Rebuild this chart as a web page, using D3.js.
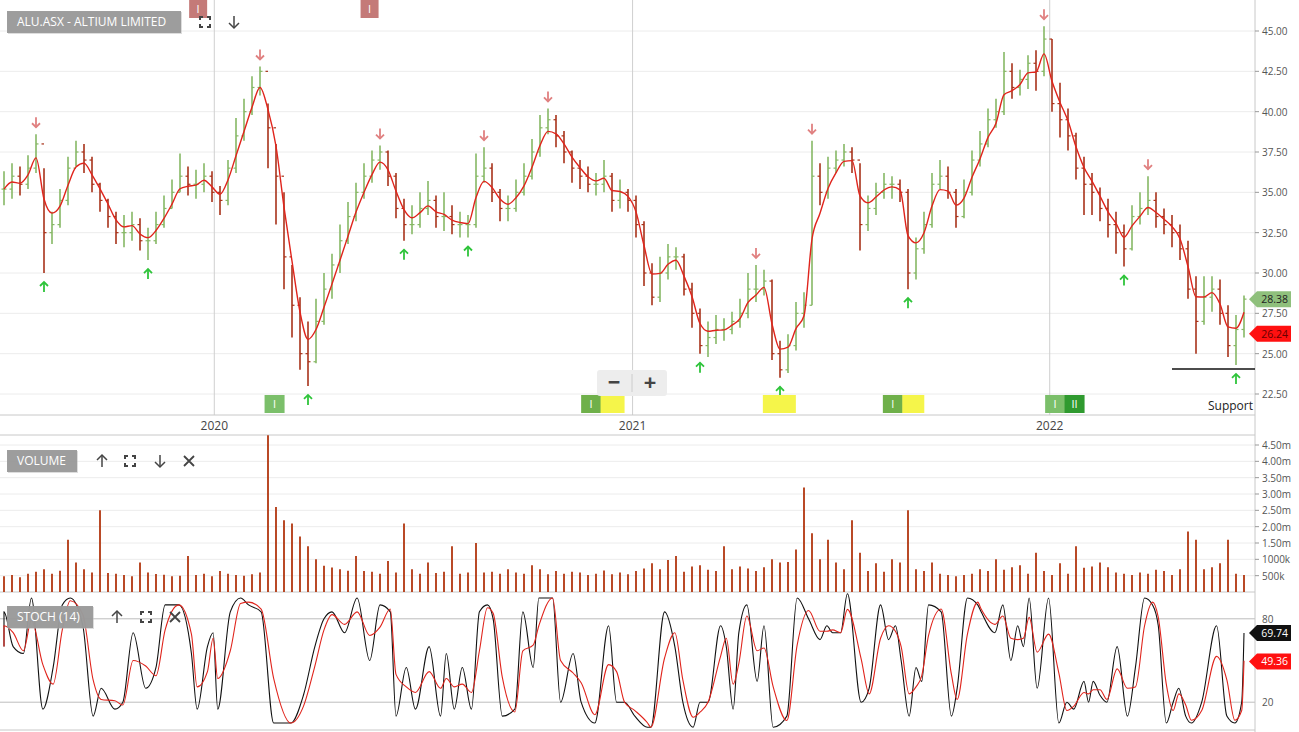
<!DOCTYPE html>
<html>
<head>
<meta charset="utf-8">
<script src="https://cdn.jsdelivr.net/npm/d3@7"></script>
<style>
  body { margin: 0; background: #fff; font-family: "Open Sans", Arial, sans-serif; }
  svg text { font-family: "Open Sans", Arial, sans-serif; }
</style>
</head>
<body>
<svg id="chart" width="1299" height="732"></svg>
<script>
// weekly closes, highs, lows (ALU.ASX, Jul 2019 - Jun 2022)
const closes = [35.2,36.0,35.5,36.5,38.0,32.5,33.0,34.5,36.5,37.5,
  37.0,35.5,34.5,33.5,32.5,32.5,33.0,32.0,32.0,33.0,
  34.0,35.0,36.0,35.5,35.5,36.0,35.0,34.5,36.5,38.5,
  40.0,41.5,42.5,39.0,36.0,31.0,28.0,25.0,24.5,27.0,
  29.0,30.5,32.0,33.5,35.0,36.0,37.0,37.5,36.0,34.0,
  33.0,33.0,34.0,34.5,33.5,33.5,33.0,33.0,33.0,36.0,
  36.5,35.0,34.0,34.0,35.0,36.0,37.5,39.0,39.5,38.5,
  37.5,36.5,36.0,35.5,35.5,36.0,34.5,35.0,34.5,33.0,
  30.0,28.5,30.0,31.0,31.0,29.0,27.5,25.5,26.0,26.5,
  26.5,27.0,27.5,29.0,29.0,29.5,25.0,24.0,25.5,27.5,
  28.0,36.0,35.0,36.5,37.0,37.5,37.0,33.0,34.0,35.0,
  35.5,35.5,35.0,30.0,31.5,33.0,35.5,36.0,35.0,33.5,
  35.0,37.0,38.0,39.5,40.0,42.5,41.5,42.0,43.0,42.5,
  44.5,40.5,39.5,38.5,36.5,35.5,35.0,34.0,33.0,32.5,
  31.5,33.5,34.0,34.5,33.5,33.0,32.5,31.5,29.0,27.0,
  28.5,29.0,27.5,25.5,26.5,28.38];
const highs = [36.3,36.8,36.6,37.3,38.6,36.5,33.8,35.2,37.2,38.2,
  38.0,37.2,35.6,34.6,33.8,33.6,33.8,33.4,32.8,33.8,
  34.8,35.8,37.4,36.6,36.4,36.8,36.3,35.4,37.0,39.6,
  40.8,42.2,42.8,40.5,38.0,35.0,30.5,28.5,27.0,28.4,
  30.0,31.2,33.0,34.4,35.6,36.8,37.6,37.9,37.6,36.2,
  34.6,34.2,35.0,35.7,34.8,35.0,34.2,33.8,33.6,37.4,
  37.8,36.8,35.2,34.8,35.8,36.8,38.3,39.8,40.2,39.8,
  38.8,37.6,37.0,36.6,36.2,37.0,36.2,35.8,35.2,34.8,
  33.2,30.6,31.0,31.8,31.6,31.2,29.4,27.8,27.0,27.4,
  27.2,27.6,28.4,30.0,30.5,30.2,29.6,25.8,26.2,28.2,
  28.8,38.2,36.8,37.2,37.6,38.0,37.8,36.8,34.8,35.6,
  36.2,36.0,35.8,35.2,32.2,33.8,36.2,37.0,36.6,35.2,
  35.8,37.6,38.8,40.2,40.8,43.7,43.0,42.6,43.5,43.8,
  45.3,44.5,41.8,40.2,38.7,37.2,36.2,35.3,34.6,33.8,
  33.0,34.2,35.0,36.0,35.0,34.0,33.6,33.0,32.0,29.8,
  29.8,29.8,29.6,28.0,27.4,28.6];
const lows = [34.2,34.6,34.8,35.2,36.2,30.0,31.8,32.8,34.2,36.6,
  36.2,35.0,33.8,32.8,31.8,31.6,32.0,31.4,30.8,31.8,
  32.8,34.0,35.0,34.8,34.6,35.0,34.4,33.6,34.2,36.2,
  38.2,39.8,41.0,36.5,33.0,29.0,26.0,24.0,23.0,24.4,
  26.8,28.4,30.0,31.8,33.2,34.6,35.6,36.4,35.4,33.4,
  32.0,32.4,32.8,33.6,32.8,32.6,32.4,32.2,32.2,32.8,
  35.6,34.4,33.2,33.2,33.8,34.8,35.8,37.2,38.6,37.8,
  36.8,35.6,35.2,35.0,34.8,35.0,33.8,34.0,33.8,32.2,
  29.2,28.0,28.2,29.6,30.2,28.6,26.6,25.0,24.8,25.6,
  25.8,26.2,26.6,27.2,28.2,28.6,24.6,23.5,23.8,25.2,
  26.6,28.0,34.2,34.6,36.2,36.6,36.2,31.4,32.6,33.6,
  34.6,34.6,34.4,29.0,29.6,31.2,32.8,35.2,34.6,32.8,
  33.4,34.8,36.6,37.8,39.0,39.8,40.8,41.0,41.4,41.3,
  42.2,40.0,38.4,37.6,35.8,33.6,33.6,33.2,32.2,31.2,
  30.4,31.4,33.0,33.6,32.8,32.4,31.6,30.8,28.4,25.0,
  26.8,27.6,26.8,24.8,24.3,26.0];
// volume in thousands
const volumes = [480,520,450,560,620,700,560,650,1600,900,
  700,600,2500,580,560,520,480,900,600,550,
  530,480,500,1100,520,560,480,640,560,520,
  500,540,600,4800,2600,2200,2100,1700,1400,1000,
  800,750,700,650,1100,640,620,560,950,600,
  2100,700,560,900,580,620,1400,560,600,1500,
  600,620,560,700,600,560,820,700,540,640,
  560,620,600,520,560,660,540,600,540,640,
  720,880,700,980,1100,620,780,820,680,640,
  1400,700,780,720,640,760,1000,900,920,1300,
  3200,1800,1000,1600,900,700,2200,1200,640,880,
  620,1000,900,2500,700,640,900,560,520,480,
  520,560,700,640,1000,680,760,820,560,1200,
  640,520,880,560,1400,740,780,900,760,600,
  560,520,600,560,680,640,520,700,1850,1600,
  700,760,880,1600,560,520];
// stochastic %K samples: position in weeks and value
const stochWeek = [0,0.0,1.1,2.4,3.4,4.9,6.2,7.3,8.3,9.9,11.2,12.2,13.8,14.8,16.1,17.7,19.0,20.2,21.8,23.4,
  24.1,25.4,26.2,26.7,28.3,29.6,30.6,32.2,33.7,35.8,37.4,38.9,40.0,41.0,42.6,44.1,45.7,47.0,48.3,49.0,
  50.3,51.4,53.2,54.5,55.3,56.3,57.3,58.4,59.4,60.4,61.2,62.3,63.8,64.9,66.1,66.9,68.5,69.5,71.1,72.1,
  73.9,75.5,76.5,77.6,78.9,80.4,
  80.9,82.6,83.9,84.9,86.2,87.0,88.0,89.6,90.3,91.1,91.9,92.9,94.2,95.0,96.1,97.9,99.2,100.5,102.0,102.8,
  103.6,104.6,105.4,107.2,108.2,109.5,110.6,111.4,112.1,113.2,114.0,114.7,115.5,117.1,118.4,119.1,120.4,121.7,122.2,123.8,
  124.8,125.9,126.7,127.4,128.2,129.2,130.5,131.8,132.9,133.7,135.0,135.5,136.2,137.0,137.8,139.1,140.4,141.4,142.5,143.5,
  144.3,145.3,146.1,146.9,147.7,148.4,149.7,151.6,152.9,153.9,154.7,155.0];
const stochK = [60,85,60,55,95,15,45,90,95,75,10,30,15,20,70,30,45,90,90,55,
  15,60,70,15,85,95,90,85,5,5,25,60,80,85,70,95,50,90,85,10,
  45,15,60,10,55,15,45,15,85,90,80,10,15,85,45,95,95,20,55,20,
  5,75,20,20,10,2,
  2,85,60,20,2,20,20,75,60,15,70,90,35,75,2,10,95,80,65,75,
  70,70,98,20,30,90,65,75,50,10,45,35,90,85,10,30,95,90,85,70,
  90,50,75,60,95,30,95,5,20,15,35,20,35,25,20,60,10,45,95,90,
  75,5,20,30,10,5,20,75,10,5,20,69.74];
const stochLabels = { k: "69.74", d: "49.36" };
const lastPrice = "28.38", maLast = "26.24";
const yearTicks = ["2020-01-01","2021-01-01","2022-01-01"];
const priceTicks = [22.5,25,27.5,30,32.5,35,37.5,40,42.5,45];
const volTicks = [0.5,1,1.5,2,2.5,3,3.5,4,4.5];
const volTickLabels = ["500k","1000k","1.50m","2.00m","2.50m","3.00m","3.50m","4.00m","4.50m"];
const stochTicks = [20,80];
const peakWeeks = [4,32,47,60,68,94,101,130,143];
const troughWeeks = [5,18,38,50,58,87,97,113,140,154];
const startDate = new Date(2019,6,1);

const svg = d3.select("#chart");
const axisX = 1255;
const weekDate = i => d3.timeDay.offset(startDate, Math.round(i*7));
const x = d3.scaleTime().domain([weekDate(0), weekDate(155)]).range([4, 1244]);
const xi = i => x(weekDate(i));
const yP = d3.scaleLinear().domain([22.5,45]).range([394,31]);
const yV = d3.scaleLinear().domain([0,4.5]).range([592,445]);
const yS = d3.scaleLinear().domain([0,100]).range([730,591]);

// panel grids
const grid = svg.append("g").attr("stroke", "#ececec");
priceTicks.forEach(t => grid.append("line").attr("x1",0).attr("x2",axisX).attr("y1",yP(t)).attr("y2",yP(t)));
volTicks.forEach(t => grid.append("line").attr("x1",0).attr("x2",axisX).attr("y1",yV(t)).attr("y2",yV(t)));
yearTicks.forEach(d => svg.append("line").attr("x1",x(new Date(d))).attr("x2",x(new Date(d)))
  .attr("y1",0).attr("y2",415).attr("stroke","#cfcfcf"));
stochTicks.forEach(t => svg.append("line").attr("x1",0).attr("x2",axisX).attr("y1",yS(t)).attr("y2",yS(t)).attr("stroke","#bdbdbd"));

// panel borders
[415,435,592,730].forEach(yy => svg.append("line").attr("x1",0).attr("x2",axisX).attr("y1",yy).attr("y2",yy).attr("stroke","#c8c8c8"));
svg.append("line").attr("x1",axisX).attr("x2",axisX).attr("y1",0).attr("y2",732).attr("stroke","#c8c8c8");

// right axes
const axisTxt = (y, t) => svg.append("text").attr("x",axisX+7).attr("y",y+4).attr("font-size",10).attr("fill","#555").text(t);
priceTicks.forEach(t => { axisTxt(yP(t), t.toFixed(2));
  svg.append("line").attr("x1",axisX).attr("x2",axisX+4).attr("y1",yP(t)).attr("y2",yP(t)).attr("stroke","#999"); });
volTicks.forEach((t,i) => { axisTxt(yV(t), volTickLabels[i]);
  svg.append("line").attr("x1",axisX).attr("x2",axisX+4).attr("y1",yV(t)).attr("y2",yV(t)).attr("stroke","#999"); });
stochTicks.forEach(t => { axisTxt(yS(t), t); });

// year labels
yearTicks.forEach(d => svg.append("text").attr("x",x(new Date(d))).attr("y",430).attr("text-anchor","middle")
  .attr("font-size",12).attr("fill","#444").text(d.slice(0,4)));

// OHLC bars
const bars = svg.append("g");
closes.forEach((c,i) => {
  const o = i ? closes[i-1] : c;
  const col = c >= o ? "#86b865" : "#a8321a";
  const cx = xi(i);
  bars.append("line").attr("x1",cx).attr("x2",cx).attr("y1",yP(highs[i])).attr("y2",yP(lows[i])).attr("stroke",col).attr("stroke-width",1.6);
  bars.append("line").attr("x1",cx-2.5).attr("x2",cx).attr("y1",yP(o)).attr("y2",yP(o)).attr("stroke",col).attr("stroke-width",1.2);
  bars.append("line").attr("x1",cx).attr("x2",cx+2.5).attr("y1",yP(c)).attr("y2",yP(c)).attr("stroke",col).attr("stroke-width",1.2);
});

// moving average of closes
const ma = [];
closes.forEach((c,i) => ma.push(i ? ma[i-1] + 0.55*(c - ma[i-1]) : c));
svg.append("path").datum(ma).attr("fill","none").attr("stroke","#e0241c").attr("stroke-width",1.4)
  .attr("d", d3.line().x((d,i)=>xi(i)).y(d=>yP(d)).curve(d3.curveMonotoneX));

// swing arrows
const arrow = (cx, cy, up, col) => {
  const g = svg.append("g").attr("stroke",col).attr("stroke-width",1.8).attr("fill","none");
  const s = up ? -1 : 1;
  g.append("line").attr("x1",cx).attr("x2",cx).attr("y1",cy-5*s).attr("y2",cy+5*s);
  g.append("path").attr("d",`M${cx-4},${cy+1*s} L${cx},${cy+5*s} L${cx+4},${cy+1*s}`);
};
peakWeeks.forEach(i => arrow(xi(i), yP(highs[i]) - 12, false, "#e08080"));
troughWeeks.forEach(i => arrow(xi(i), yP(lows[i]) + 14, true, "#2ec43a"));

// support line
svg.append("line").attr("x1",xi(146)).attr("x2",axisX).attr("y1",yP(24.05)).attr("y2",yP(24.05)).attr("stroke","#111").attr("stroke-width",1.3);
svg.append("text").attr("x",1253).attr("y",410).attr("text-anchor","end").attr("font-size",12).attr("fill","#222").text("Support");

// event badges
const badge = (d, y, w, col, txt) => {
  const bx = x(new Date(d));
  svg.append("rect").attr("x",bx).attr("y",y).attr("width",w).attr("height",18).attr("fill",col);
  if (txt) svg.append("text").attr("x",bx+w/2).attr("y",y+13).attr("text-anchor","middle").attr("font-size",11).attr("fill","#fff").text(txt);
};
badge("2019-12-10", 0, 18, "#c47a78", "I");
badge("2020-05-08", 0, 18, "#c47a78", "I");
badge("2020-02-14", 395, 20, "#7bbf6a", "I");
badge("2020-11-17", 395, 20, "#6fb04a", "I");
badge("2020-12-04", 395, 24, "#f5f54a", "");
badge("2021-04-25", 395, 33, "#f5f54a", "");
badge("2021-08-08", 395, 20, "#6fb04a", "I");
badge("2021-08-25", 395, 22, "#f5f54a", "");
badge("2021-12-28", 395, 20, "#7bbf6a", "I");
badge("2022-01-14", 395, 20, "#2f9a2f", "II");

// zoom buttons
svg.append("rect").attr("x",597).attr("y",370).attr("width",70).attr("height",26).attr("rx",3).attr("fill","#ededed");
svg.append("line").attr("x1",632).attr("x2",632).attr("y1",374).attr("y2",392).attr("stroke","#ccc");
svg.append("text").attr("x",614).attr("y",390).attr("text-anchor","middle").attr("font-size",22).attr("font-weight","bold").attr("fill","#444").text("−");
svg.append("text").attr("x",650).attr("y",390).attr("text-anchor","middle").attr("font-size",22).attr("font-weight","bold").attr("fill","#444").text("+");

// price tags
const tag = (y, txt, col, tcol) => {
  svg.append("path").attr("d",`M${axisX-6},${y} L${axisX+2},${y-8} L1291,${y-8} L1291,${y+8} L${axisX+2},${y+8} Z`).attr("fill",col);
  svg.append("text").attr("x",1288).attr("y",y+4).attr("text-anchor","end").attr("font-size",10.5).attr("fill",tcol).text(txt);
};
tag(yP(+lastPrice), lastPrice, "#8fc07c", "#222");
tag(yP(+maLast), maLast, "#ff1010", "#600");

// volume
const vg = svg.append("g");
volumes.forEach((v,i) => vg.append("line").attr("x1",xi(i)).attr("x2",xi(i)).attr("y1",yV(0)).attr("y2",yV(v/1000))
  .attr("stroke","#b2360f").attr("stroke-width",1.8));

// stochastic (%D as a short smoothing of %K)
const dVals = stochK.map((v,i) => i ? 0.6*v + 0.4*stochK[i-1] : v);
const sLine = vals => d3.line().x((d,i)=>xi(stochWeek[i])).y(d=>yS(d)).curve(d3.curveMonotoneX)(vals);
svg.append("path").attr("d", sLine(stochK)).attr("fill","none").attr("stroke","#111").attr("stroke-width",1.1);
svg.append("path").attr("d", sLine(dVals)).attr("fill","none").attr("stroke","#e0241c").attr("stroke-width",1.1);
const stTag = (y, txt, col) => {
  svg.append("path").attr("d",`M${axisX-6},${y} L${axisX+2},${y-8} L1291,${y-8} L1291,${y+8} L${axisX+2},${y+8} Z`).attr("fill",col);
  svg.append("text").attr("x",1288).attr("y",y+4).attr("text-anchor","end").attr("font-size",10.5).attr("fill","#fff").text(txt);
};
stTag(yS(+stochLabels.k), stochLabels.k, "#111");
stTag(yS(+stochLabels.d), stochLabels.d, "#ff1010");

// panel headers with drawn icons
const icon = (kind, cx, cy) => {
  const g = svg.append("g").attr("stroke","#444").attr("stroke-width",1.5).attr("fill","none");
  if (kind === "up" || kind === "down") {
    const s = kind === "up" ? -1 : 1;
    g.append("line").attr("x1",cx).attr("x2",cx).attr("y1",cy-6*s).attr("y2",cy+6*s);
    g.append("path").attr("d",`M${cx-5},${cy+1*s} L${cx},${cy+6*s} L${cx+5},${cy+1*s}`);
  } else if (kind === "full") {
    g.attr("stroke-width",2);
    g.append("path").attr("d",`M${cx-5},${cy-2} V${cy-5} H${cx-2} M${cx+2},${cy-5} H${cx+5} V${cy-2} M${cx+5},${cy+2} V${cy+5} H${cx+2} M${cx-2},${cy+5} H${cx-5} V${cy+2}`);
  } else {
    g.attr("stroke-width",1.8);
    g.append("path").attr("d",`M${cx-5},${cy-5} L${cx+5},${cy+5} M${cx+5},${cy-5} L${cx-5},${cy+5}`);
  }
};
const header = (bx, by, w, txt, icons, ix) => {
  svg.append("rect").attr("x",bx+1).attr("y",by+1).attr("width",w).attr("height",22).attr("fill","#bbb").attr("opacity",0.5);
  svg.append("rect").attr("x",bx).attr("y",by).attr("width",w).attr("height",22).attr("fill","#999").attr("opacity",0.95);
  svg.append("text").attr("x",bx+10).attr("y",by+15).attr("font-size",12).attr("fill","#fff").text(txt);
  icons.forEach((k,j) => icon(k, ix[j], by+11));
};
header(7, 11, 174, "ALU.ASX - ALTIUM LIMITED", ["full","down"], [205,234]);
header(7, 450, 70, "VOLUME", ["up","full","down","close"], [102,130,160,189]);
header(7, 606, 86, "STOCH (14)", ["up","full","close"], [117,146,175]);
</script>
</body>
</html>
